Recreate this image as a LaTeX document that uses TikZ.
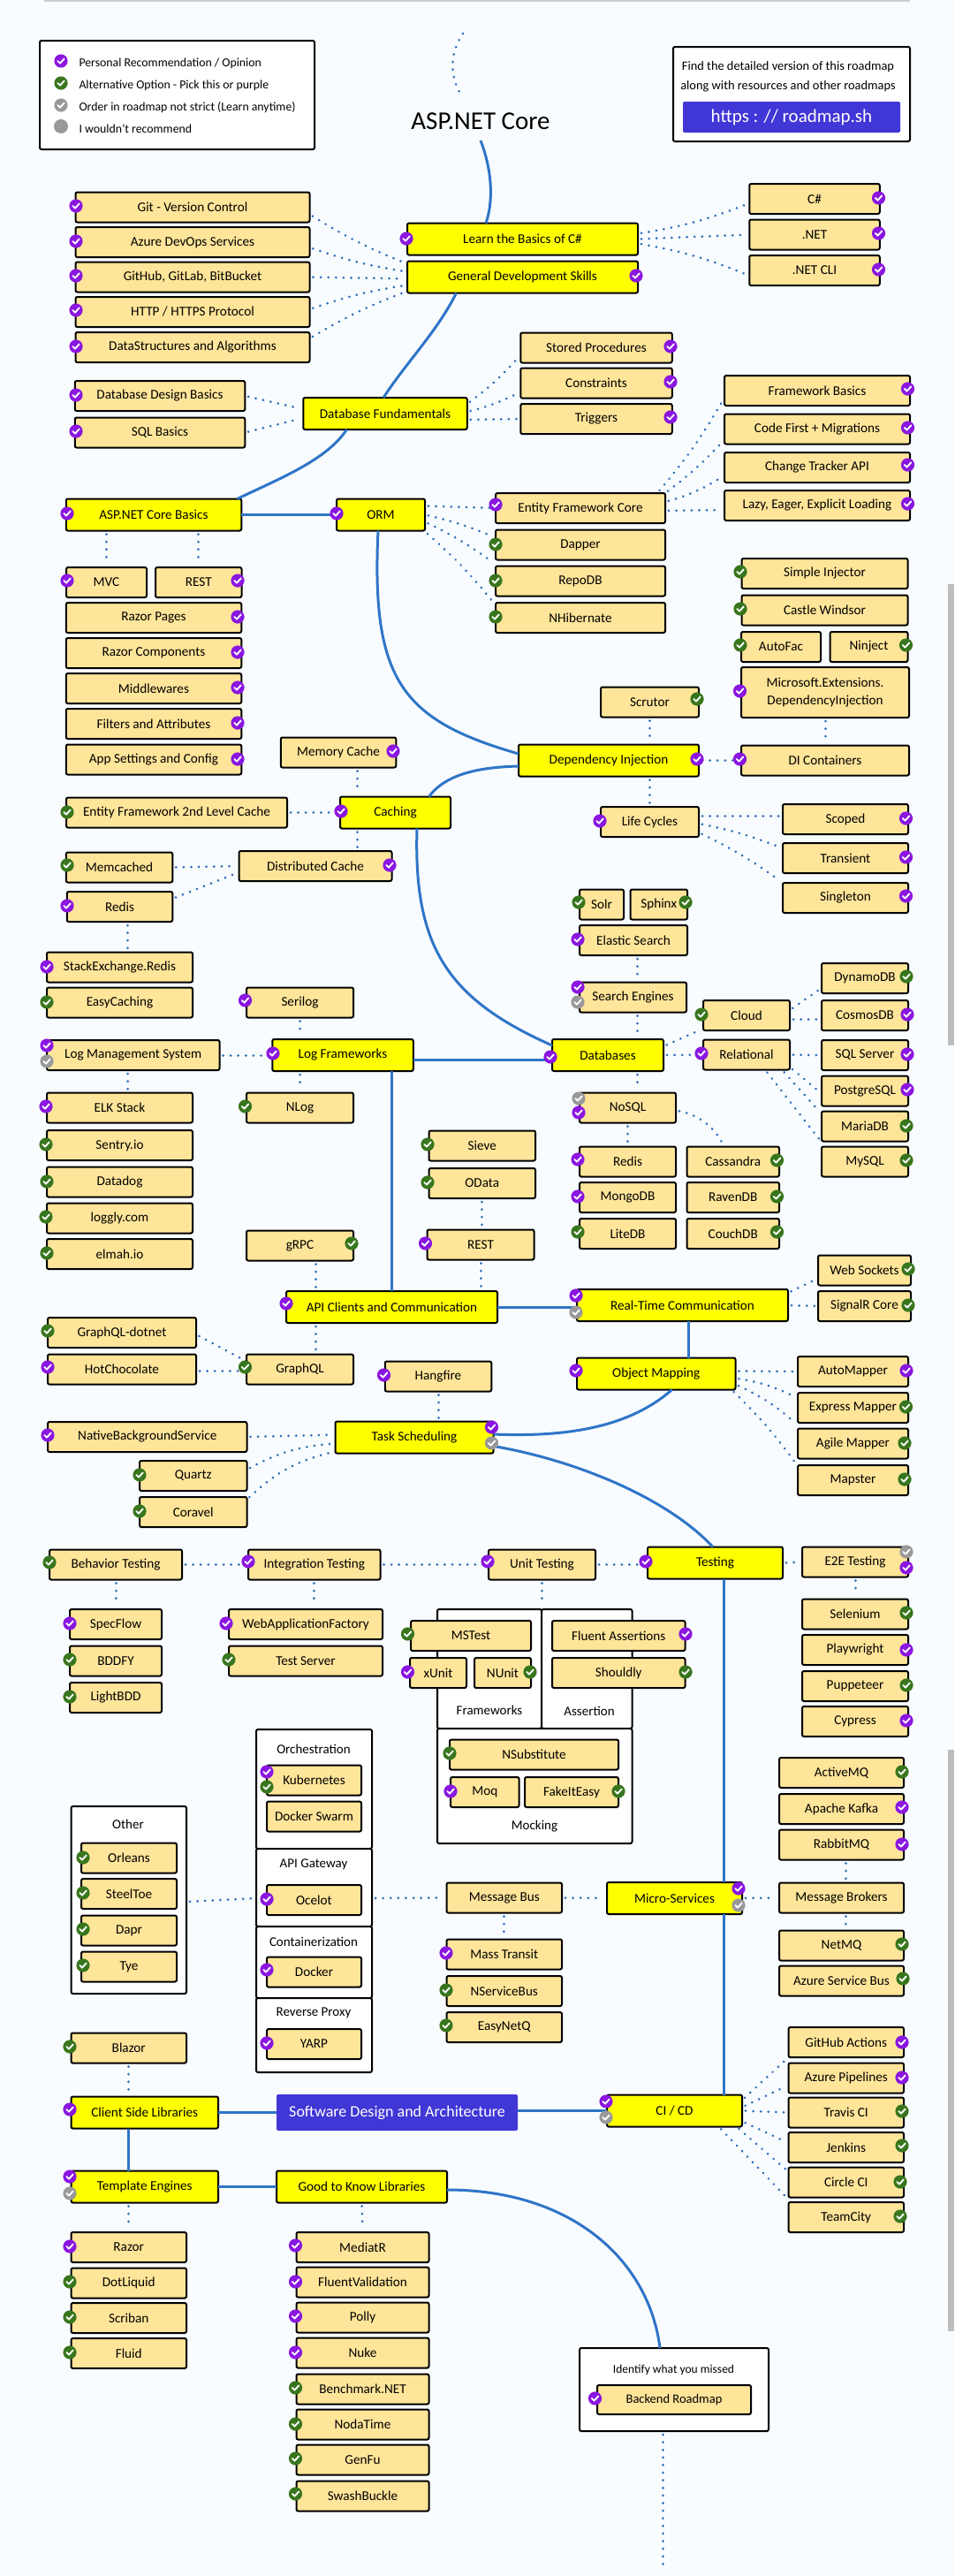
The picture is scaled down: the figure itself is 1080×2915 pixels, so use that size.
\documentclass[tikz,border=0pt]{standalone}
\usepackage{fontspec}
\setmainfont{Carlito}
\usepackage{tikz}

\definecolor{pagebg}{HTML}{F9FCFE}
\definecolor{topicfill}{HTML}{FFFF00}
\definecolor{subfill}{HTML}{FFE599}
\definecolor{roadblue}{HTML}{2F75C8}
\definecolor{dotblue}{HTML}{2F6DBE}
\definecolor{brandblue}{HTML}{4136D6}
\definecolor{purp}{HTML}{8A16E0}
\definecolor{leaf}{HTML}{38761D}
\definecolor{silver}{HTML}{999999}

\tikzset{
  w/.style={minimum width=#1},
  h/.style={minimum height=#1},
  box/.style={draw=black,line width=2,rounded corners=2,inner sep=0,outer sep=0,align=center,
    font=\fontsize{15.2}{20}\selectfont},
  topic/.style={box,fill=topicfill,h=36},
  subtopic/.style={box,fill=subfill,h=34},
  panel/.style={box,fill=white},
  lbl/.style={inner sep=0,outer sep=0,font=\fontsize{15}{18}\selectfont},
  legendtext/.style={lbl,anchor=west,font=\fontsize{13.8}{16}\selectfont},
  road/.style={roadblue,line width=3},
  dotlink/.style={dotblue,line width=3,line cap=round,dash pattern=on 0.01 off 8.6,shorten <=4,shorten >=4},
  badge/.pic={
    \fill[#1] (0,0) circle (7.6);
    \draw[white,line width=1.9,line cap=round,line join=round] (-3.6,0) -- (-1,2.6) -- (3.8,-2.6);
  }
}

\begin{document}
\begin{tikzpicture}[x=1pt,y=-1pt]
    \useasboundingbox (0,0) rectangle (1080,2915);
    \fill[pagebg] (0,0) rectangle (1080,2915);
    \fill[silver!50] (50,0) rectangle (1030,2);
    \fill[silver!65] (1073,661) rectangle (1080,1183);
    \fill[silver!65] (1073,1980) rectangle (1080,2638);

    % legend and link box
    \node[panel,w=311,h=123] (legend) at (200.5,107.5) {};
    \node[legendtext] (lgpurple) at (89.5,72) {Personal Recommendation / Opinion};
    \node[legendtext] (lggreen) at (89.5,97) {Alternative Option - Pick this or purple};
    \node[legendtext] (lgsilver) at (89.5,122) {Order in roadmap not strict (Learn anytime)};
    \node[legendtext] (lgnone) at (89.5,146) {I wouldn't recommend};
    \node[panel,w=268,h=107] (linkbox) at (896,106.5) {};
    \node[lbl,font=\fontsize{14.4}{18}\selectfont] (linktexta) at (892,76) {Find the detailed version of this roadmap};
    \node[lbl,font=\fontsize{14.4}{18}\selectfont] (linktextb) at (892,98) {along with resources and other roadmaps};
    \node[box,draw=none,fill=brandblue,text=white,w=246,h=35,font=\fontsize{21}{24}\selectfont] (linkbutton) at (896,132.5) {https : // roadmap.sh};

    \node[lbl,font=\fontsize{29}{32}\selectfont] (title) at (544,137) {ASP.NET Core};
    \coordinate (topstart) at (524,38);
    \coordinate (topend) at (521,106);
    \coordinate (bottomend) at (750,2903);

    % basics
    \node[topic,w=261] (learn) at (591.5,270.5) {Learn the Basics of C\#};
    \node[topic,w=261] (general) at (591.5,313.5) {General Development Skills};
    \node[subtopic,w=265] (git) at (218,234.5) {Git - Version Control};
    \node[subtopic,w=265] (azure) at (218,274) {Azure DevOps Services};
    \node[subtopic,w=265] (github) at (218,313.5) {GitHub, GitLab, BitBucket};
    \node[subtopic,w=265] (http) at (218,353) {HTTP / HTTPS Protocol};
    \node[subtopic,w=265] (dsa) at (218,393) {DataStructures and Algorithms};
    \node[subtopic,w=147.5] (csharp) at (922,225) {C\#};
    \node[subtopic,w=147.5] (dotnet) at (922,265.5) {.NET};
    \node[subtopic,w=147.5] (netcli) at (922,306) {.NET CLI};

    % database fundamentals
    \node[topic,w=185.5] (dbfund) at (436,468) {Database Fundamentals};
    \node[subtopic,w=171.5] (stored) at (675,393.5) {Stored Procedures};
    \node[subtopic,w=171.5] (constraints) at (675,433.5) {Constraints};
    \node[subtopic,w=171.5] (triggers) at (675,474) {Triggers};
    \node[subtopic,w=192.5] (dbdesign) at (181,448) {Database Design Basics};
    \node[subtopic,w=192.5] (sqlbasics) at (181,489.5) {SQL Basics};

    % aspnet core basics and orm
    \node[topic,w=198.5] (aspbasics) at (174,582.5) {ASP.NET Core Basics};
    \node[topic,w=100] (orm) at (431,582.5) {ORM};
    \node[subtopic,w=210] (fwbasics) at (925,442) {Framework Basics};
    \node[subtopic,w=210] (codefirst) at (925,485.5) {Code First + Migrations};
    \node[subtopic,w=210] (tracker) at (925,529) {Change Tracker API};
    \node[subtopic,w=210] (lazy) at (925,572) {Lazy, Eager, Explicit Loading};
    \node[subtopic,w=192] (efcore) at (657,575) {Entity Framework Core};
    \node[subtopic,w=192] (dapper) at (657,616.5) {Dapper};
    \node[subtopic,w=192] (repodb) at (657,657.5) {RepoDB};
    \node[subtopic,w=192] (nhibernate) at (657,699) {NHibernate};
    \node[subtopic,w=91] (mvc) at (120.5,659) {MVC};
    \node[subtopic,w=97.5] (rest) at (224.75,659) {REST};
    \node[subtopic,w=198.5] (razorpages) at (174,699) {Razor Pages};
    \node[subtopic,w=198.5] (razorcomp) at (174,739) {Razor Components};
    \node[subtopic,w=198.5] (middlewares) at (174,779) {Middlewares};
    \node[subtopic,w=198.5] (filters) at (174,819) {Filters and Attributes};
    \node[subtopic,w=198.5] (appsettings) at (174,859.5) {App Settings and Config};

    % dependency injection
    \node[topic,w=204] (di) at (689,860.5) {Dependency Injection};
    \node[subtopic,w=188] (simpleinj) at (933.5,649) {Simple Injector};
    \node[subtopic,w=188] (castle) at (933.5,690.5) {Castle Windsor};
    \node[subtopic,w=90] (autofac) at (884,732) {AutoFac};
    \node[subtopic,w=88] (ninject) at (983.5,732) {Ninject};
    \node[subtopic,w=190,h=57] (msdi) at (934,783.5) {Microsoft.Extensions.\\DependencyInjection};
    \node[subtopic,w=111] (scrutor) at (735.5,794.5) {Scrutor};
    \node[subtopic,w=190] (dicontainers) at (934,860.5) {DI Containers};
    \node[subtopic,w=111] (lifecycles) at (735.5,930) {Life Cycles};
    \node[subtopic,w=142] (scoped) at (957,927) {Scoped};
    \node[subtopic,w=142] (transient) at (957,971) {Transient};
    \node[subtopic,w=142] (singleton) at (957,1016) {Singleton};

    % caching
    \node[topic,w=125] (caching) at (447.5,919.5) {Caching};
    \node[subtopic,w=130.5] (memcache) at (383,851.5) {Memory Cache};
    \node[subtopic,w=250] (ef2nd) at (200,919.5) {Entity Framework 2nd Level Cache};
    \node[subtopic,w=173] (distcache) at (357,980) {Distributed Cache};
    \node[subtopic,w=120.5] (memcached) at (135,981.5) {Memcached};
    \node[subtopic,w=119.5] (redis) at (135.5,1026) {Redis};
    \node[subtopic,w=165] (stackredis) at (135.5,1094.5) {StackExchange.Redis};
    \node[subtopic,w=165] (easycaching) at (135.5,1134.5) {EasyCaching};

    % logging
    \node[topic,w=159.5] (logfw) at (388,1194) {Log Frameworks};
    \node[subtopic,w=121] (serilog) at (339.5,1134.5) {Serilog};
    \node[subtopic,w=121] (nlog) at (339.5,1253.5) {NLog};
    \node[subtopic,w=195.5] (logmgmt) at (150.75,1194) {Log Management System};
    \node[subtopic,w=165] (elk) at (135.5,1253.5) {ELK Stack};
    \node[subtopic,w=165] (sentry) at (135.5,1296) {Sentry.io};
    \node[subtopic,w=165] (datadog) at (135.5,1337.5) {Datadog};
    \node[subtopic,w=165] (loggly) at (135.5,1378.5) {loggly.com};
    \node[subtopic,w=165] (elmah) at (135.5,1419) {elmah.io};

    % databases
    \node[topic,w=126] (databases) at (688,1194) {Databases};
    \node[subtopic,w=50] (solr) at (681,1023.5) {Solr};
    \node[subtopic,w=64.5] (sphinx) at (745.75,1023.5) {Sphinx};
    \node[subtopic,w=122] (elastic) at (717,1064) {Elastic Search};
    \node[subtopic,w=121] (searcheng) at (716.5,1128.5) {Search Engines};
    \node[subtopic,w=98] (cloud) at (845,1149) {Cloud};
    \node[subtopic,w=98] (relational) at (845,1193.5) {Relational};
    \node[subtopic,w=109] (nosql) at (710.5,1253.5) {NoSQL};
    \node[subtopic,w=98] (dynamo) at (979,1107) {DynamoDB};
    \node[subtopic,w=98] (cosmos) at (979,1149) {CosmosDB};
    \node[subtopic,w=98] (sqlserver) at (979,1194) {SQL Server};
    \node[subtopic,w=98] (postgres) at (979,1234.5) {PostgreSQL};
    \node[subtopic,w=98] (maria) at (979,1274.5) {MariaDB};
    \node[subtopic,w=98] (mysql) at (979,1314.5) {MySQL};
    \node[subtopic,w=109] (redisdb) at (710.5,1314.5) {Redis};
    \node[subtopic,w=104.5] (cassandra) at (829.75,1314.5) {Cassandra};
    \node[subtopic,w=109] (mongo) at (710.5,1355) {MongoDB};
    \node[subtopic,w=104.5] (raven) at (829.75,1355) {RavenDB};
    \node[subtopic,w=109] (lite) at (710.5,1396) {LiteDB};
    \node[subtopic,w=104.5] (couch) at (829.75,1396) {CouchDB};

    % api clients and real time
    \node[topic,w=239] (apiclients) at (443.5,1479) {API Clients and Communication};
    \node[topic,w=239] (realtime) at (772.5,1477) {Real-Time Communication};
    \node[subtopic,w=120.5] (sieve) at (545.75,1296.5) {Sieve};
    \node[subtopic,w=120.5] (odata) at (545.75,1339) {OData};
    \node[subtopic,w=121] (restapi) at (544,1408.5) {REST};
    \node[subtopic,w=121] (grpc) at (339.5,1409.5) {gRPC};
    \node[subtopic,w=105] (websockets) at (978.5,1437.5) {Web Sockets};
    \node[subtopic,w=105] (signalr) at (978.5,1478) {SignalR Core};
    \node[subtopic,w=168] (graphqldot) at (138,1508) {GraphQL-dotnet};
    \node[subtopic,w=168] (hotchoc) at (138,1549.5) {HotChocolate};
    \node[subtopic,w=121] (graphql) at (339.5,1549.5) {GraphQL};

    % object mapping and task scheduling
    \node[topic,w=179.5] (objmap) at (742.75,1554.5) {Object Mapping};
    \node[subtopic,w=125] (automapper) at (965.5,1552) {AutoMapper};
    \node[subtopic,w=125] (expressmap) at (965.5,1593) {Express Mapper};
    \node[subtopic,w=125] (agilemap) at (965.5,1633.5) {Agile Mapper};
    \node[subtopic,w=125] (mapster) at (965.5,1675) {Mapster};
    \node[topic,w=179] (taskshed) at (469,1626.5) {Task Scheduling};
    \node[subtopic,w=120.5] (hangfire) at (496,1557.5) {Hangfire};
    \node[subtopic,w=225.5] (nativebg) at (166.75,1626) {NativeBackgroundService};
    \node[subtopic,w=121.5] (quartz) at (218.75,1670) {Quartz};
    \node[subtopic,w=121.5] (coravel) at (218.75,1711) {Coravel};

    % testing
    \node[topic,w=153] (testing) at (809.5,1768.5) {Testing};
    \node[subtopic,w=150] (behavior) at (131,1770.5) {Behavior Testing};
    \node[subtopic,w=149.5] (integration) at (355.75,1770.5) {Integration Testing};
    \node[subtopic,w=121] (unittest) at (613.5,1770.5) {Unit Testing};
    \node[subtopic,w=120] (e2e) at (968,1767.5) {E2E Testing};
    \node[subtopic,w=120] (selenium) at (968,1826.5) {Selenium};
    \node[subtopic,w=120] (playwright) at (968,1867) {Playwright};
    \node[subtopic,w=120] (puppeteer) at (968,1908) {Puppeteer};
    \node[subtopic,w=120] (cypress) at (968,1948) {Cypress};
    \node[subtopic,w=104] (specflow) at (131,1838) {SpecFlow};
    \node[subtopic,w=104] (bddfy) at (131,1879.5) {BDDFY};
    \node[subtopic,w=104] (lightbdd) at (131,1921) {LightBDD};
    \node[subtopic,w=174] (webappfac) at (346,1838) {WebApplicationFactory};
    \node[subtopic,w=174] (testserver) at (346,1879.5) {Test Server};
    \node[panel,w=118,h=135] (framepanel) at (554,1888.5) {};
    \node[panel,w=102.5,h=135] (assertpanel) at (664.25,1888.5) {};
    \node[panel,w=220.5,h=130] (mockpanel) at (605.25,2021) {};
    \node[subtopic,w=136] (mstest) at (533,1851) {MSTest};
    \node[subtopic,w=64] (xunit) at (496,1893) {xUnit};
    \node[subtopic,w=64] (nunit) at (569,1893) {NUnit};
    \node[subtopic,w=150.5] (fluent) at (700.25,1851) {Fluent Assertions};
    \node[subtopic,w=150.5] (shouldly) at (700.25,1893) {Shouldly};
    \node[lbl] (frametext) at (554,1935) {Frameworks};
    \node[lbl] (asserttext) at (667,1936) {Assertion};
    \node[subtopic,w=191] (nsub) at (604.5,1985.5) {NSubstitute};
    \node[subtopic,w=77.5] (moq) at (548.75,2028) {Moq};
    \node[subtopic,w=106] (fakeit) at (647,2028) {FakeItEasy};
    \node[lbl] (mocktext) at (605,2067) {Mocking};

    % micro services
    \node[panel,w=131,h=135] (orchpanel) at (355.5,2024.5) {};
    \node[panel,w=131,h=88] (gatepanel) at (355.5,2136) {};
    \node[panel,w=131,h=81] (contpanel) at (355.5,2220.5) {};
    \node[panel,w=131,h=84] (proxypanel) at (355.5,2303) {};
    \node[lbl] (orchtext) at (355,1979) {Orchestration};
    \node[lbl] (gatetext) at (355,2110) {API Gateway};
    \node[lbl] (conttext) at (355,2197) {Containerization};
    \node[lbl] (proxytext) at (355,2278) {Reverse Proxy};
    \node[subtopic,w=107] (kubernetes) at (355.5,2014.5) {Kubernetes};
    \node[subtopic,w=107] (swarm) at (355.5,2055.5) {Docker Swarm};
    \node[subtopic,w=107] (ocelot) at (355.5,2150) {Ocelot};
    \node[subtopic,w=107] (docker) at (355.5,2231.5) {Docker};
    \node[subtopic,w=107] (yarp) at (355.5,2313) {YARP};
    \node[panel,w=130.5,h=212] (otherpanel) at (145.75,2150) {};
    \node[lbl] (othertext) at (145,2064) {Other};
    \node[subtopic,w=108] (orleans) at (146,2102.5) {Orleans};
    \node[subtopic,w=108] (steeltoe) at (146,2143) {SteelToe};
    \node[subtopic,w=108] (dapr) at (146,2184.5) {Dapr};
    \node[subtopic,w=108] (tye) at (146,2225.5) {Tye};
    \node[topic,w=153] (micro) at (763.5,2148) {Micro-Services};
    \node[subtopic,w=130.5] (msgbus) at (570.75,2147.5) {Message Bus};
    \node[subtopic,w=141] (brokers) at (952.5,2147.5) {Message Brokers};
    \node[subtopic,w=141] (activemq) at (952.5,2006) {ActiveMQ};
    \node[subtopic,w=141] (kafka) at (952.5,2047) {Apache Kafka};
    \node[subtopic,w=141] (rabbit) at (952.5,2087.5) {RabbitMQ};
    \node[subtopic,w=141] (netmq) at (952.5,2201.5) {NetMQ};
    \node[subtopic,w=141] (asb) at (952.5,2241.5) {Azure Service Bus};
    \node[subtopic,w=130.5] (masstransit) at (570.75,2211.5) {Mass Transit};
    \node[subtopic,w=130.5] (nservicebus) at (570.75,2253) {NServiceBus};
    \node[subtopic,w=130.5] (easynetq) at (570.75,2294) {EasyNetQ};

    % architecture and ci
    \node[subtopic,w=130.5] (blazor) at (145.75,2317.5) {Blazor};
    \node[topic,w=166.5] (client) at (163.75,2390.5) {Client Side Libraries};
    \node[box,draw=none,fill=brandblue,text=white,w=273,h=41,font=\fontsize{18}{22}\selectfont] (softdesign) at (449.5,2390.5) {Software Design and Architecture};
    \node[topic,w=153] (cicd) at (763.5,2388.5) {CI / CD};
    \node[subtopic,w=130.5] (ghactions) at (957.75,2311) {GitHub Actions};
    \node[subtopic,w=130.5] (azpipe) at (957.75,2351.5) {Azure Pipelines};
    \node[subtopic,w=130.5] (travis) at (957.75,2390.5) {Travis CI};
    \node[subtopic,w=130.5] (jenkins) at (957.75,2430) {Jenkins};
    \node[subtopic,w=130.5] (circle) at (957.75,2469.5) {Circle CI};
    \node[subtopic,w=130.5] (teamcity) at (957.75,2509) {TeamCity};
    \node[topic,w=166.5] (template) at (163.75,2474.5) {Template Engines};
    \node[topic,w=193] (goodlibs) at (409.5,2474.5) {Good to Know Libraries};
    \node[subtopic,w=130.5] (razor) at (145.75,2543) {Razor};
    \node[subtopic,w=130.5] (dotliquid) at (145.75,2583.5) {DotLiquid};
    \node[subtopic,w=130.5] (scriban) at (145.75,2623) {Scriban};
    \node[subtopic,w=130.5] (fluid) at (145.75,2663) {Fluid};
    \node[subtopic,w=150] (mediatr) at (410.5,2543) {MediatR};
    \node[subtopic,w=150] (fluentval) at (410.5,2582.5) {FluentValidation};
    \node[subtopic,w=150] (polly) at (410.5,2622.5) {Polly};
    \node[subtopic,w=150] (nuke) at (410.5,2662.5) {Nuke};
    \node[subtopic,w=150] (benchmark) at (410.5,2703.5) {Benchmark.NET};
    \node[subtopic,w=150] (noda) at (410.5,2743.5) {NodaTime};
    \node[subtopic,w=150] (genfu) at (410.5,2783.5) {GenFu};
    \node[subtopic,w=150] (swash) at (410.5,2824.5) {SwashBuckle};
    \node[panel,w=214,h=94] (missed) at (763,2704) {};
    \node[lbl,font=\fontsize{13.5}{16}\selectfont] (missedtext) at (762.5,2682) {Identify what you missed};
    \node[subtopic,w=174,h=33,font=\fontsize{14.5}{18}\selectfont] (backend) at (763,2715.5) {Backend Roadmap};

    % solid road
    \draw[road] ([yshift=-22]title.center) .. controls (558,195) and (558,230) .. ([xshift=-41.5]learn.north);
    \draw[road] ([xshift=-75]general.south) .. controls (495,375) and (460,410) .. ([xshift=-2]dbfund.north);
    \draw[road] ([xshift=-43.5]dbfund.south) .. controls (370,520) and (320,540) .. ([xshift=94.5]aspbasics.north);
    \draw[road] (aspbasics.east) -- (orm.west);
    \draw[road] ([xshift=-3]orm.south) .. controls (420,770) and (455,815) .. ([yshift=7.5]di.west);
    \draw[road] ([yshift=-6.5]di.west) .. controls (545,868) and (505,875) .. ([xshift=38]caching.north);
    \draw[road] ([xshift=24.5]caching.south) .. controls (468,1070) and (505,1130) .. ([yshift=11]databases.west);
    \draw[road] ([yshift=-5]logfw.east) -- ([yshift=-5]databases.west);
    \draw[road] (apiclients |- logfw.south) -- (apiclients.north);
    \draw[road] (apiclients.east) -- (realtime.west |- apiclients.east);
    \draw[road] ([xshift=6.5]realtime.south) -- ([xshift=36.25]objmap.north);
    \draw[road] ([xshift=18]objmap.south) .. controls (709,1618) and (634,1626) .. ([yshift=3.5]taskshed.east);
    \draw[road] ([yshift=-10]taskshed.east) .. controls (640,1650) and (750,1690) .. ([xshift=-2.5]testing.north);
    \draw[road] ([xshift=10]testing.south) -- ([xshift=56]micro.north);
    \draw[road] ([xshift=56]micro.south) -- ([xshift=56]cicd.north);
    \draw[road] (cicd.west) -- (cicd.west -| softdesign.east);
    \draw[road] (client.east) -- (softdesign.west);
    \draw[road] (blazor |- client.south) -- (blazor |- template.north);
    \draw[road] (template.east) -- (goodlibs.west);
    \draw[road] ([yshift=-3.5]goodlibs.east) .. controls (650,2478) and (735,2560) .. ([xshift=-16]missed.north);

    % dotted links
    \draw[dotlink,shorten <=0,shorten >=0] (topstart) .. controls (509,60) and (509,85) .. (topend);
    \draw[dotlink] ([yshift=-8]git.east) to[bend right=5] ([yshift=15]general.west);
    \draw[dotlink] ([yshift=-6]azure.east) to[bend right=5] ([yshift=6]general.west);
    \draw[dotlink] (github.east) -- ([yshift=-2]general.west);
    \draw[dotlink] ([yshift=3]http.east) to[bend left=5] ([yshift=-9]general.west);
    \draw[dotlink] ([yshift=10]dsa.east) to[bend left=5] ([yshift=-16]general.west);
    \draw[dotlink] ([yshift=6]learn.east) to[bend right=6] ([yshift=-5]csharp.west);
    \draw[dotlink] (learn.east) -- (dotnet.west);
    \draw[dotlink] ([yshift=-5]learn.east) to[bend left=6] ([yshift=-6]netcli.west);
    \draw[dotlink] ([yshift=11]dbfund.east) to[bend right=6] ([yshift=-8]stored.west);
    \draw[dotlink] ([yshift=2]dbfund.east) to[bend right=6] ([yshift=-10]constraints.west);
    \draw[dotlink] ([yshift=-7]dbfund.east) -- (triggers.west);
    \draw[dotlink] (dbdesign.east) -- ([yshift=5]dbfund.west);
    \draw[dotlink] (sqlbasics.east) -- ([yshift=-5]dbfund.west);
    \draw[dotlink] ([xshift=87]efcore.north) to[bend right=5] ([yshift=-8]fwbasics.west);
    \draw[dotlink] (efcore.north east) to[bend right=5] ([yshift=-12]codefirst.west);
    \draw[dotlink] ([yshift=7]efcore.east) to[bend right=8] ([yshift=-9]tracker.west);
    \draw[dotlink] ([yshift=-3]efcore.east) -- ([yshift=-5]lazy.west);
    \draw[dotlink] ([yshift=10]orm.east) -- (efcore.west);
    \draw[dotlink] (orm.east) to[bend left=5] ([yshift=8]dapper.west);
    \draw[dotlink] ([yshift=-8]orm.east) to[bend left=5] ([yshift=19]repodb.west);
    \draw[dotlink] ([yshift=-19]orm.east) to[bend left=5] ([yshift=14]nhibernate.west);
    \draw[dotlink] (mvc |- aspbasics.south) -- (mvc.north);
    \draw[dotlink] (rest |- aspbasics.south) -- (rest.north);
    \draw[dotlink] (scrutor.south) -- (scrutor |- di.north);
    \draw[dotlink] (msdi.south) -- (dicontainers.north);
    \draw[dotlink] (di.east) -- (dicontainers.west);
    \draw[dotlink] (lifecycles |- di.south) -- (lifecycles.north);
    \draw[dotlink] ([yshift=7]lifecycles.east) -- ([yshift=4]scoped.west);
    \draw[dotlink] ([yshift=-2]lifecycles.east) to[bend left=5] ([yshift=11]transient.west);
    \draw[dotlink] ([yshift=-12]lifecycles.east) to[bend left=5] (singleton.north west);
    \draw[dotlink] ([xshift=21]memcache.south) -- ([xshift=-43.5]caching.north);
    \draw[dotlink] (ef2nd.east) -- (caching.west);
    \draw[dotlink] ([xshift=-43.5]caching.south) -- ([xshift=47]distcache.north);
    \draw[dotlink] (memcached.east) -- (distcache.west);
    \draw[dotlink] ([yshift=9]redis.east) -- ([yshift=-7]distcache.west);
    \draw[dotlink] ([xshift=9]redis.south) -- ([xshift=9]stackredis.north);
    \draw[dotlink] (serilog.south) -- (serilog |- logfw.north);
    \draw[dotlink] (serilog |- logfw.south) -- (nlog.north);
    \draw[dotlink] (logmgmt.east) -- (logfw.west);
    \draw[dotlink] ([xshift=-6]logmgmt.south) -- ([xshift=9]elk.north);
    \draw[dotlink] ([xshift=4]elastic.south) -- ([xshift=4.5]searcheng.north);
    \draw[dotlink] ([xshift=4.5]searcheng.south) -- ([xshift=33]databases.north);
    \draw[dotlink] ([xshift=33]databases.south) -- ([xshift=10.5]nosql.north);
    \draw[dotlink] ([yshift=10]databases.east) -- ([yshift=-15]cloud.west);
    \draw[dotlink] (databases.east) -- (relational.west);
    \draw[dotlink] ([yshift=6]cloud.east) -- ([yshift=-11]dynamo.west);
    \draw[dotlink] ([yshift=-4]cloud.east) -- ([yshift=-4]cosmos.west);
    \draw[dotlink] (relational.east) -- (sqlserver.west);
    \draw[dotlink] ([yshift=-14]relational.east) -- ([yshift=-3]postgres.west);
    \draw[dotlink] ([xshift=40]relational.south) -- ([yshift=14]maria.west);
    \draw[dotlink] ([xshift=21]relational.south) -- ([yshift=22]mysql.west);
    \draw[dotlink] (nosql.south) -- (redisdb.north);
    \draw[dotlink] ([yshift=-3]nosql.east) to[bend left=25] ([xshift=-10]cassandra.north);
    \draw[dotlink] (odata.south) -- (odata |- restapi.north);
    \draw[dotlink] (restapi.south) -- (restapi |- apiclients.north);
    \draw[dotlink] ([xshift=17.5]grpc.south) -- ([xshift=-86.5]apiclients.north);
    \draw[dotlink] ([xshift=-86.5]apiclients.south) -- ([xshift=17.5]graphql.north);
    \draw[dotlink] ([yshift=-2]graphqldot.east) -- ([yshift=9]graphql.west);
    \draw[dotlink] ([yshift=-2]hotchoc.east) -- ([yshift=-2]graphql.west);
    \draw[dotlink] ([yshift=14]realtime.east) -- ([yshift=-9]websockets.west);
    \draw[dotlink] (realtime.east) -- (signalr.west);
    \draw[dotlink] ([yshift=3]objmap.east) -- (automapper.west);
    \draw[dotlink] ([yshift=-5]objmap.east) to[bend left=8] ([yshift=11]expressmap.west);
    \draw[dotlink] ([yshift=-12]objmap.east) to[bend left=8] ([yshift=21]agilemap.west);
    \draw[dotlink] ([xshift=85]objmap.south) to[bend left=5] ([yshift=16]mapster.west);
    \draw[dotlink] (hangfire.south) -- (hangfire |- taskshed.north);
    \draw[dotlink] (nativebg.east) -- ([yshift=3]taskshed.west);
    \draw[dotlink] ([yshift=7]quartz.east) to[bend left=12] ([yshift=-7]taskshed.west);
    \draw[dotlink] ([yshift=14]coravel.east) to[bend left=15] ([yshift=-16]taskshed.west);
    \draw[dotlink] (behavior.east) -- (integration.west);
    \draw[dotlink] (integration.east) -- (unittest.west);
    \draw[dotlink] (unittest.east) -- (testing.west |- unittest.east);
    \draw[dotlink] (testing.east) -- (e2e.west);
    \draw[dotlink] (behavior.south) -- (specflow.north);
    \draw[dotlink] (integration.south) -- (integration |- webappfac.north);
    \draw[dotlink] (unittest.south) -- (unittest |- framepanel.north);
    \draw[dotlink] (e2e.south) -- (selenium.north);
    \draw[dotlink] ([yshift=-2]otherpanel.east) -- ([yshift=-12]gatepanel.west);
    \draw[dotlink] ([yshift=-12]gatepanel.east) -- (msgbus.west);
    \draw[dotlink] (msgbus.east) -- (micro.west);
    \draw[dotlink] (micro.east) -- (brokers.west);
    \draw[dotlink] (msgbus.south) -- (masstransit.north);
    \draw[dotlink] ([xshift=4.5]rabbit.south) -- ([xshift=4.5]brokers.north);
    \draw[dotlink] ([xshift=4.5]brokers.south) -- ([xshift=4.5]netmq.north);
    \draw[dotlink] (blazor.south) -- (blazor |- client.north);
    \draw[dotlink] (blazor |- template.south) -- (razor.north);
    \draw[dotlink] (goodlibs.south) -- (mediatr.north);
    \draw[dotlink] ([yshift=12]cicd.east) -- ([yshift=-17]ghactions.west);
    \draw[dotlink] ([yshift=4]cicd.east) -- ([yshift=-8]azpipe.west);
    \draw[dotlink] (cicd.east) -- (travis.west);
    \draw[dotlink] ([yshift=-12]cicd.east) -- ([yshift=5]jenkins.west);
    \draw[dotlink] ([xshift=70]cicd.south) -- ([yshift=12]circle.west);
    \draw[dotlink] ([xshift=50]cicd.south) -- ([yshift=20]teamcity.west);
    \draw[dotlink,shorten >=0] ([xshift=-13]missed.south) -- (bottomend);

    % badges
    \fill[silver] (69,143) circle (8);
    \foreach \x/\y in {69/69,460/270,720/312,86/233,86/273,86/312,86/351,86/392,994.5/224,994.5/264,994.5/305,
        759/392,759/432,759/472,86/447,86/488,1027.5/440,1027.5/484,1027.5/526,1027.5/570,76/581,381/581,561/571,
        76/657,269/657,269/698,269/738,269/778,269/818,269/859,837.5/782,789/859,837.5/859,679/929,1025.5/926,
        1025.5/970,1025.5/1014,445/850,386/918,441/979,76/1025,53/1094,277.5/1132,53/1183,309/1192,52/1252,
        654/1063,654/1117,794/1192,623/1196,655/1259,1027/1148,1027/1193,1027/1233,654/1312,654/1354,481.5/1407,
        324/1475,652/1466,54/1547,434.5/1556,652/1551,1026/1551,556.5/1615,54/1624,281/1767,552/1767,731/1767,
        1026/1774,1026/1867,1026/1947,79/1837,256/1837,461.5/1892,776/1849,510/2027,302/2005,302/2149,302/2229,
        302/2312,1021/2045,1021/2087,836/2137,505/2210,79/2387,686/2378,1021/2311,1021/2351,79/2463,79/2542,
        334.5/2541,334.5/2582,334.5/2621,334.5/2662,673.5/2714}
      \pic at (\x,\y) {badge=purp};
    \foreach \x/\y in {69/94,561/616,561/657,561/698,838/647,838/689,838/730,1025.5/730,789/791,76/919,76/979,
        53/1134,277.5/1252,52/1295,53/1337,52/1377,53/1418,655/1021,776/1021,794/1148,1026/1105,1026/1274,1026/1313,
        879.5/1313,879.5/1354,654/1394,879.5/1394,484/1295,484/1338,398/1407,1028/1436,1028/1477,54/1506,277.5/1547,
        1025.5/1592,1024/1633,1024/1674,158/1669,158/1710,56/1768,1026/1825,1026/1907,79/1878,79/1920,259/1878,
        461.5/1849,600/1892,776/1892,509/1984,700/2027,94/2102,94/2142,94/2183,94/2224,302/2022,1021/2005,1021/2200,
        1022/2239,505/2252,505/2292,79/2316,1021/2389,1021/2428,1019/2469,1019/2508,79/2582,79/2622,79/2662,
        334.5/2702,334.5/2743,334.5/2782,334.5/2822}
      \pic at (\x,\y) {badge=leaf};
    \foreach \x/\y in {69/119,53/1201,654/1134,655/1243,652/1485,556.5/1633,1026/1756,836/2156,686/2396,79/2482}
      \pic at (\x,\y) {badge=silver};
\end{tikzpicture}
\end{document}
